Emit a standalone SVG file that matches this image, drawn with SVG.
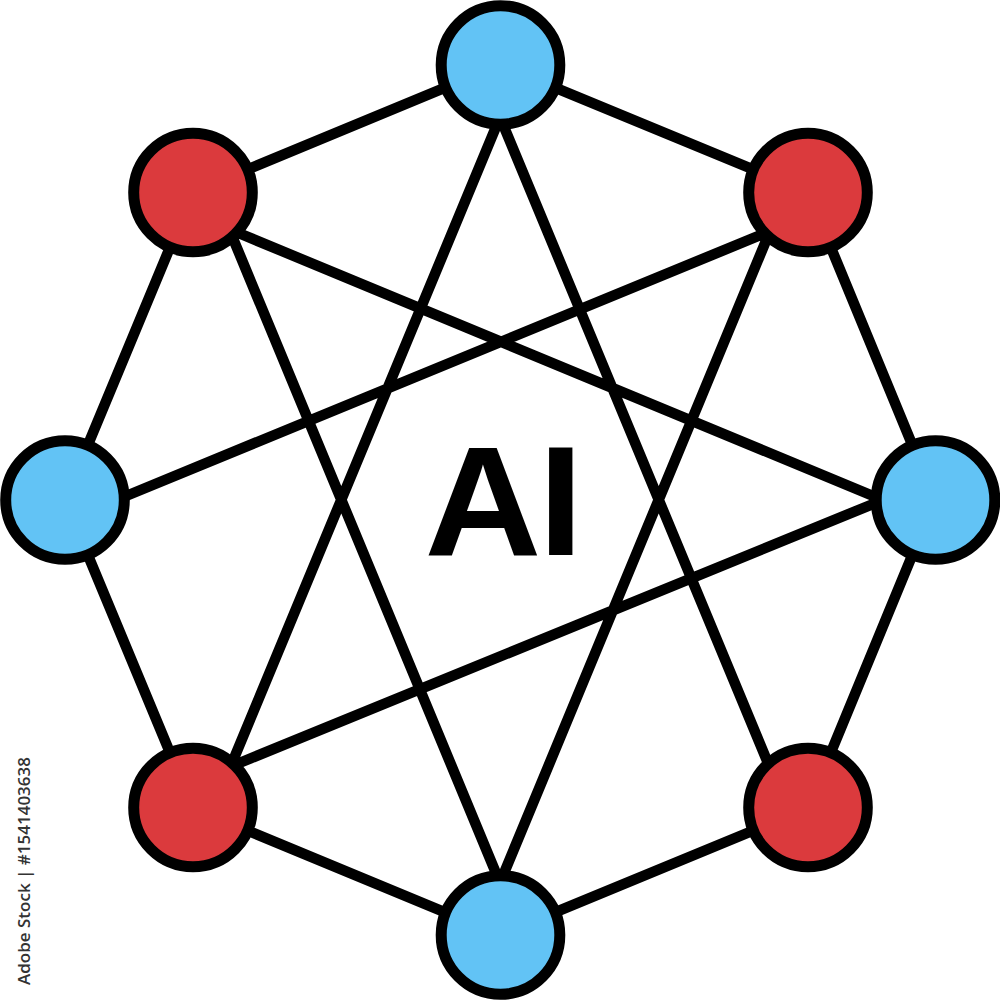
<svg xmlns="http://www.w3.org/2000/svg" width="1000" height="1000" viewBox="0 0 1000 1000">
<style>
.e{stroke:#000;stroke-width:10.5;fill:none}
.r{fill:#DB3A3D;stroke:#000;stroke-width:11}
.b{fill:#62C3F5;stroke:#000;stroke-width:11}
.t{font-family:"Liberation Sans",Arial,sans-serif;font-weight:700;fill:#000}
</style>
<rect width="1000" height="1000" fill="#fff"/>
<g id="connectors">
<path class="e" d="M500 65L808 192L935 500L808 808L500 935L193 808L65 500L193 192Z"/>
<path class="e" d="M498 122L230 768M502 122L770 768M236 232L878 498M232 236L498 878M768 236L502 878M126 496L768 232M878 502L232 766"/>
</g>
<g id="node-top"><circle class="b" cx="500.500" cy="65" r="59.300"/></g>
<g id="node-top-right"><circle class="r" cx="808" cy="192.500" r="59.300"/></g>
<g id="node-right"><circle class="b" cx="935.500" cy="500" r="59.300"/></g>
<g id="node-bottom-right"><circle class="r" cx="808" cy="807.500" r="59.300"/></g>
<g id="node-bottom"><circle class="b" cx="500.500" cy="935" r="59.300"/></g>
<g id="node-bottom-left"><circle class="r" cx="193" cy="807.500" r="59.300"/></g>
<g id="node-left"><circle class="b" cx="65" cy="500" r="59.300"/></g>
<g id="node-top-left"><circle class="r" cx="193" cy="192.500" r="59.300"/></g>
<text class="t" transform="translate(424.500,555) scale(1.045,1)" font-size="155" letter-spacing="-3">AI</text>
<text transform="translate(30,985) rotate(-90)" font-family="'Open Sans','Liberation Sans',sans-serif" font-size="17" font-weight="600" fill="#333">Adobe Stock | #1541403638</text>
</svg>
